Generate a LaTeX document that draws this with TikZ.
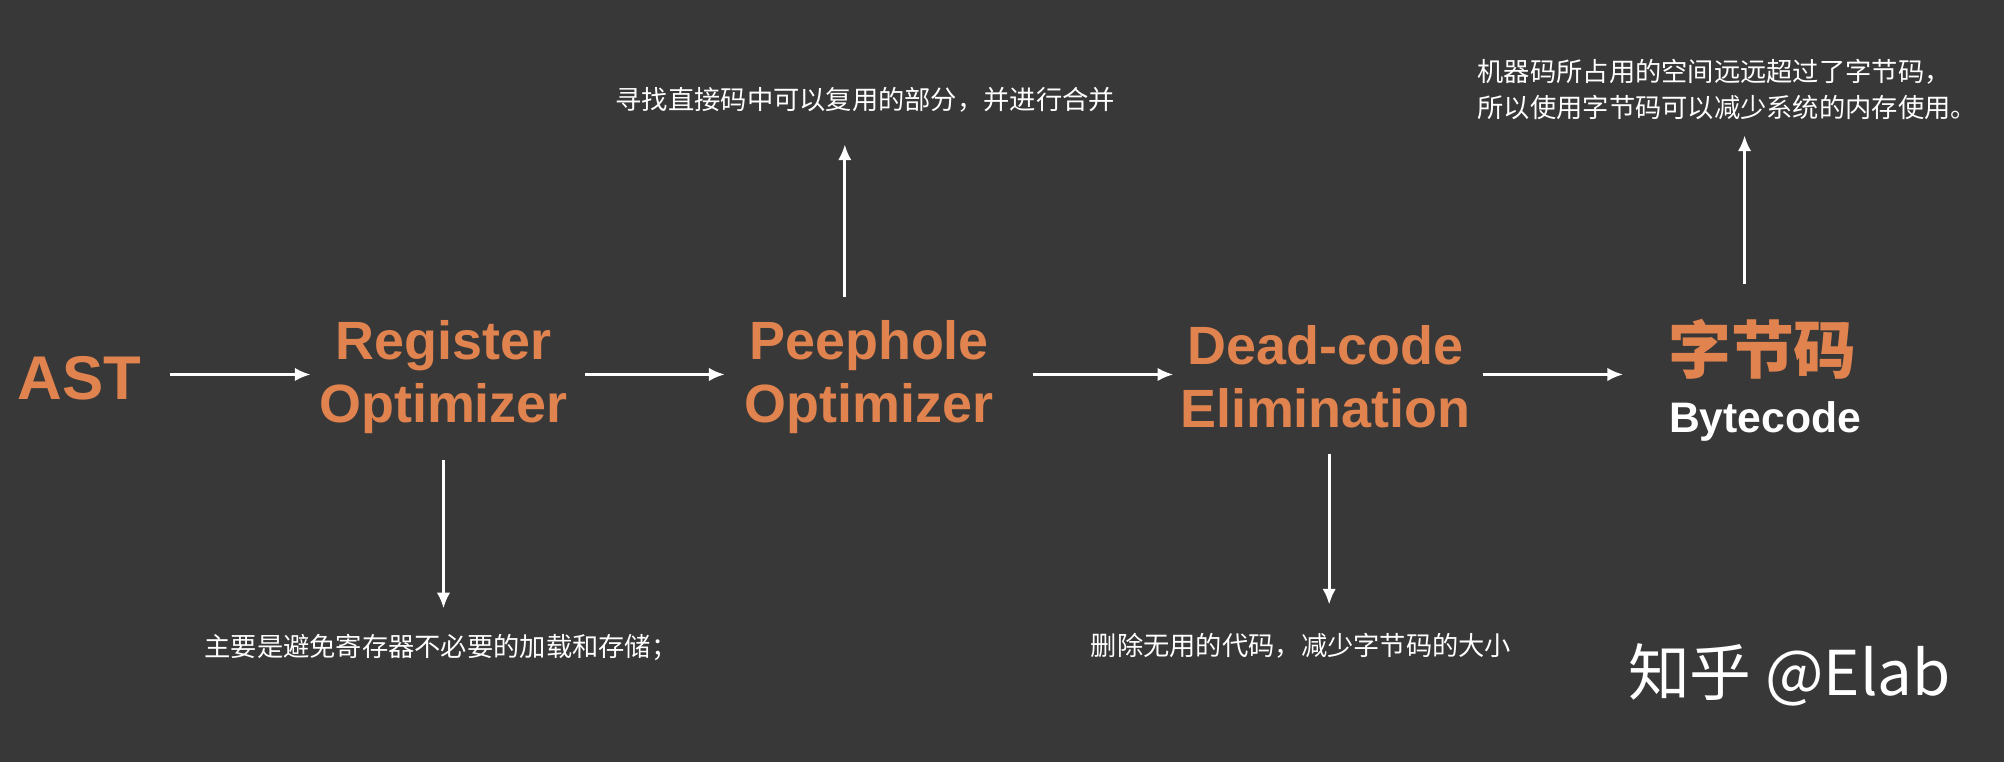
\documentclass[tikz,border=0pt]{standalone}
\usepackage{fontspec}
\setmainfont{Liberation Sans}
\newfontfamily\cjk{Noto Sans CJK SC}
\usetikzlibrary{arrows.meta}
\definecolor{bg}{HTML}{383838}
\definecolor{org}{HTML}{E0834F}
\begin{document}
\begin{tikzpicture}[x=0.02cm,y=-0.02cm,
  stage/.style={text=org,font=\bfseries\fontsize{24}{28}\selectfont,align=center},
  note/.style={text=white,font=\cjk\fontsize{11.7}{16}\selectfont,align=left},
  flow/.style={draw=white,line width=1.2pt,-{Latex[length=7pt,width=6pt]}}]
\fill[bg] (0,0) rectangle (1568,596);
\useasboundingbox (0,0) rectangle (1568,596);
\node[text=org,font=\bfseries\fontsize{27.5}{30}\selectfont] (ast) at (62,296) {AST};
\node[stage] (reg) at (347,295) {Register\\Optimizer};
\node[stage] (pee) at (680,295) {Peephole\\Optimizer};
\node[stage] (dead) at (1037,295) {Dead-code\\Elimination};
\node[text=org,font=\cjk\bfseries\fontsize{28}{30}\selectfont] (zj) at (1379,273) {字节码};
\node[text=white,font=\bfseries\fontsize{19}{22}\selectfont] (bc) at (1381,330) {Bytecode};
\coordinate (a1s) at (133,293); \coordinate (a1e) at (243,293);
\coordinate (a2s) at (458,293); \coordinate (a2e) at (567,293);
\coordinate (a3s) at (808,293); \coordinate (a3e) at (918,293);
\coordinate (a4s) at (1160,293); \coordinate (a4e) at (1270,293);
\draw[flow] (a1s) -- (a1e);
\draw[flow] (a2s) -- (a2e);
\draw[flow] (a3s) -- (a3e);
\draw[flow] (a4s) -- (a4e);
\node[note] (n1) at (345,507) {主要是避免寄存器不必要的加载和存储；};
\node[note] (n2) at (677,78) {寻找直接码中可以复用的部分，并进行合并};
\node[note] (n3) at (1018,505) {删除无用的代码，减少字节码的大小};
\node[note,anchor=west] (n4) at (1150,70) {机器码所占用的空间远远超过了字节码，\\所以使用字节码可以减少系统的内存使用。};
\coordinate (v1s) at (347,360); \coordinate (v1e) at (347,476);
\coordinate (v2s) at (661,232); \coordinate (v2e) at (661,113);
\coordinate (v3s) at (1040,355); \coordinate (v3e) at (1040,473);
\coordinate (v4s) at (1365,222); \coordinate (v4e) at (1365,106);
\draw[flow] (v1s) -- (v1e);
\draw[flow] (v2s) -- (v2e);
\draw[flow] (v3s) -- (v3e);
\draw[flow] (v4s) -- (v4e);
\node[text=white,font=\cjk\fontsize{27.5}{30}\selectfont] (wm) at (1400,528) {知乎 @Elab};
\end{tikzpicture}
\end{document}
